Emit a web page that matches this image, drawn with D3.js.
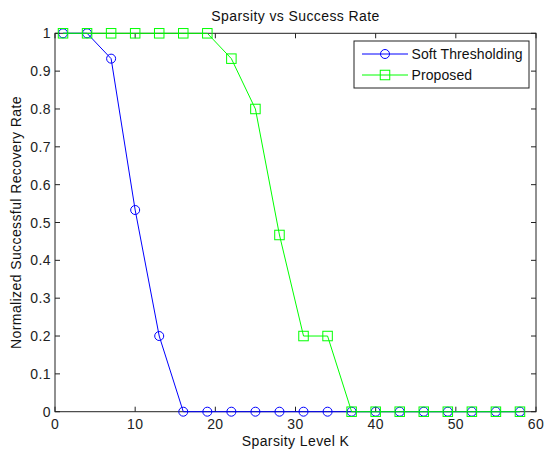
<!DOCTYPE html>
<html><head><meta charset="utf-8">
<script src="https://cdn.jsdelivr.net/npm/d3@7"></script>
<style>body{margin:0;background:#fff;} text{font-family:"Liberation Sans",Arial,sans-serif;letter-spacing:0.4px;} .lgt{letter-spacing:0.1px;}</style>
</head><body>
<svg id="c" width="550" height="459"></svg>
<script>
const sparsityK = [1,4,7,10,13,16,19,22,25,28,31,34,37,40,43,46,49,52,55,58];
const softThresholding = [1,1,0.933,0.533,0.2,0,0,0,0,0,0,0,0,0,0,0,0,0,0,0];
const proposed = [1,1,1,1,1,1,1,0.933,0.8,0.467,0.2,0.2,0,0,0,0,0,0,0,0];
const xTicks = [0,10,20,30,40,50,60];
const yTicks = [0,0.1,0.2,0.3,0.4,0.5,0.6,0.7,0.8,0.9,1];
const seriesNames = ["Soft Thresholding","Proposed"];

const svg = d3.select("#c");
const L=55, R=536, T=33.3, B=411.7;
const x = d3.scaleLinear().domain([0,60]).range([L,R]);
const y = d3.scaleLinear().domain([0,1]).range([B,T]);
const fs = 14;

svg.append("rect").attr("x",L).attr("y",T).attr("width",R-L).attr("height",B-T)
  .attr("fill","#fff").attr("stroke","#222").attr("stroke-width",1);

const tk=5;
xTicks.forEach(v=>{
  svg.append("line").attr("x1",x(v)).attr("x2",x(v)).attr("y1",B).attr("y2",B-tk).attr("stroke","#222");
  svg.append("line").attr("x1",x(v)).attr("x2",x(v)).attr("y1",T).attr("y2",T+tk).attr("stroke","#222");
  svg.append("text").attr("x",x(v)).attr("y",B+17).attr("text-anchor","middle").attr("font-size",fs).attr("fill","#222").text(d3.format("")(v));
});
yTicks.forEach(v=>{
  svg.append("line").attr("x1",L).attr("x2",L+tk).attr("y1",y(v)).attr("y2",y(v)).attr("stroke","#222");
  svg.append("line").attr("x1",R).attr("x2",R-tk).attr("y1",y(v)).attr("y2",y(v)).attr("stroke","#222");
  svg.append("text").attr("x",L-4).attr("y",y(v)+5).attr("text-anchor","end").attr("font-size",fs).attr("fill","#222").text(d3.format("")(v));
});

svg.append("text").attr("x",(L+R)/2).attr("y",21).attr("text-anchor","middle").attr("font-size",fs).attr("fill","#111").text("Sparsity vs Success Rate");
svg.append("text").attr("x",(L+R)/2).attr("y",446).attr("text-anchor","middle").attr("font-size",fs).attr("fill","#111").text("Sparsity Level K");
svg.append("text").attr("transform",`translate(21,${(T+B)/2}) rotate(-90)`).attr("text-anchor","middle").attr("font-size",fs).attr("fill","#111").text("Normalized Successful Recovery Rate");

const line = d3.line().x(d=>x(d[0])).y(d=>y(d[1]));
const blue="#0000ff", green="#00ff00";
const d1 = sparsityK.map((k,i)=>[k,softThresholding[i]]);
const d2 = sparsityK.map((k,i)=>[k,proposed[i]]);

svg.append("path").attr("d",line(d1)).attr("fill","none").attr("stroke",blue).attr("stroke-width",1);
svg.selectAll(".c1").data(d1).enter().append("circle").attr("cx",d=>x(d[0])).attr("cy",d=>y(d[1])).attr("r",4.5)
  .attr("fill","none").attr("stroke",blue).attr("stroke-width",1);
svg.append("path").attr("d",line(d2)).attr("fill","none").attr("stroke",green).attr("stroke-width",1);
const s=9.5;
svg.selectAll(".s2").data(d2).enter().append("rect").attr("x",d=>x(d[0])-s/2).attr("y",d=>y(d[1])-s/2).attr("width",s).attr("height",s)
  .attr("fill","none").attr("stroke",green).attr("stroke-width",1);

const lg = svg.append("g");
lg.append("rect").attr("x",354).attr("y",41).attr("width",175).attr("height",47).attr("fill","#fff").attr("stroke","#222");
const rows=[54,75];
seriesNames.forEach((n,i)=>{
  const c = i===0?blue:green;
  lg.append("line").attr("x1",362).attr("x2",408).attr("y1",rows[i]).attr("y2",rows[i]).attr("stroke",c);
  if(i===0) lg.append("circle").attr("cx",385).attr("cy",rows[i]).attr("r",4.5).attr("fill","none").attr("stroke",c);
  else lg.append("rect").attr("x",385-s/2).attr("y",rows[i]-s/2).attr("width",s).attr("height",s).attr("fill","none").attr("stroke",c);
  lg.append("text").attr("class","lgt").attr("x",411.5).attr("y",rows[i]+5).attr("font-size",fs).attr("fill","#111").text(n);
});
</script>
</body></html>
